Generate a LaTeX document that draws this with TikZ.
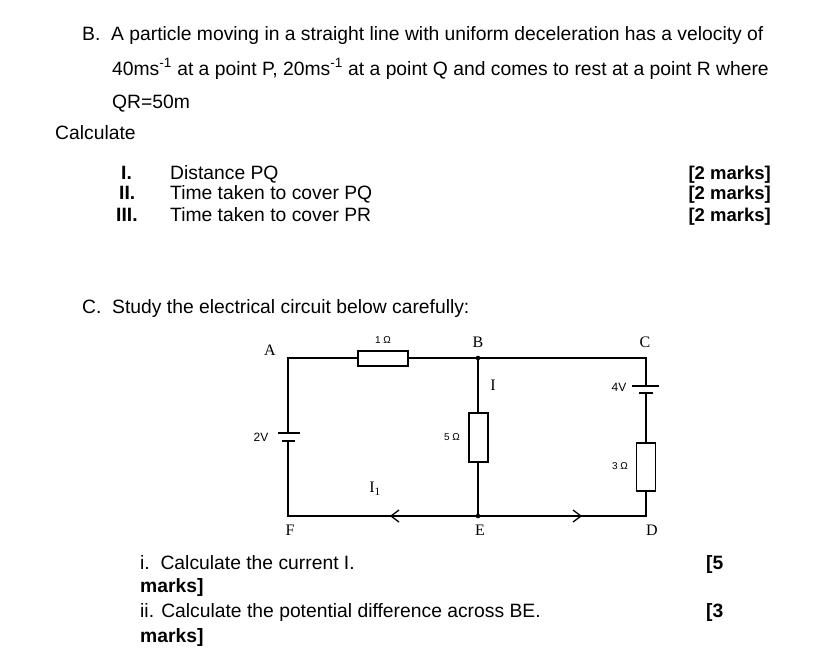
\documentclass[tikz,border=0pt]{standalone}
\usepackage{fontspec}
\setmainfont{Liberation Sans}
\newfontfamily\serif{Liberation Serif}
\usetikzlibrary{arrows.meta}
\begin{document}
\begin{tikzpicture}[x=1pt,y=-1pt,
  txt/.style={anchor=base west,inner sep=0pt,font=\fontsize{19.3}{22}\selectfont},
  bx/.style={anchor=base west,inner sep=0pt,font=\fontsize{19.3}{22}\selectfont\bfseries},
  mk/.style={anchor=base east,inner sep=0pt,font=\fontsize{18.5}{22}\selectfont\bfseries},
  lab/.style={inner sep=0pt,font=\fontsize{16}{18}\selectfont\serif},
  sm/.style={inner sep=0pt,font=\fontsize{10}{12}\selectfont},
  wire/.style={line width=1.3pt},
  res/.style={draw,line width=1.3pt,fill=white,minimum width=#1,inner sep=0pt},
  plate/.style={line width=1.6pt}]
\useasboundingbox (0,0) rectangle (822,664);
\node[txt] (t1) at (82,40) {B.\ \ A particle moving in a straight line with uniform deceleration has a velocity of};
\node[txt] (t2) at (112,75) {40ms\textsuperscript{-1} at a point P, 20ms\textsuperscript{-1} at a point Q and comes to rest at a point R where};
\node[txt] (t3) at (112,108) {QR=50m};
\node[txt] (t4) at (55,139) {Calculate};
\node[bx] (r1) at (121,179) {I.};
\node[bx] (r2) at (119,199) {II.};
\node[bx] (r3) at (116,221) {III.};
\node[txt] (q1) at (170,179) {Distance PQ};
\node[txt] (q2) at (170,199) {Time taken to cover PQ};
\node[txt] (q3) at (170,221) {Time taken to cover PR};
\node[mk] (m1) at (771,179) {[2 marks]};
\node[mk] (m2) at (771,199) {[2 marks]};
\node[mk] (m3) at (771,221) {[2 marks]};
\node[txt] (c1) at (82,313) {C.\ \ Study the electrical circuit below carefully:};
% circuit
\coordinate (A) at (288,358); \coordinate (B) at (478,358); \coordinate (C) at (646,358);
\coordinate (F) at (288,516); \coordinate (E) at (478,516); \coordinate (D) at (646,516);
\draw[wire] (A) -- (C) -- (D) -- (F) -- cycle;
\draw[wire] (B) -- (E);
\fill (B) circle (2.3pt); \fill (E) circle (2.3pt);
\node[res=50pt,minimum height=15pt] (R1) at (383,358.5) {};
\node[res=19pt,minimum height=49pt] (R5) at (478.5,437.5) {};
\node[res=19pt,minimum height=48pt] (R3) at (646,467) {};
% 2V battery
\fill[white] (276,434) rectangle (302,440);
\draw[plate] (278,433) -- (300,433);
\draw[line width=2.6pt] (282,441) -- (295,441);
% 4V battery
\fill[white] (630,387) rectangle (662,392);
\draw[plate] (632,386) -- (659,386);
\draw[line width=2.6pt] (639,393) -- (653,393);
% arrows
\draw[wire] (399,510) -- (391,516) -- (399,522);
\draw[wire] (573,510) -- (581,516) -- (573,522);
\node[lab] (lA) at (270,350) {A};
\node[lab] (lB) at (478,342) {B};
\node[lab] (lC) at (645,342) {C};
\node[lab] (lF) at (290,530) {F};
\node[lab] (lE) at (480,530) {E};
\node[lab] (lD) at (652,530) {D};
\node[lab] (lI) at (493,385) {I};
\node[lab] (lI1) at (375,489) {I\textsubscript{1}};
\node[sm] (l1) at (383,340) {1 Ω};
\node[sm] (l5) at (452,437) {5 Ω};
\node[sm] (l3) at (620,466) {3 Ω};
\node[sm,font=\fontsize{12}{14}\selectfont] (l4) at (619,387) {4V};
\node[sm,font=\fontsize{12}{14}\selectfont] (l2) at (261,437) {2V};
% questions
\node[txt] (i1) at (140,569) {i.\ \ Calculate the current I.};
\node[bx] (i1m) at (706,569) {[5};
\node[bx] (i1n) at (140,592) {marks]};
\node[txt] (i2) at (140,617) {ii. Calculate the potential difference across BE.};
\node[bx] (i2m) at (706,617) {[3};
\node[bx] (i2n) at (140,642) {marks]};
\end{tikzpicture}
\end{document}
